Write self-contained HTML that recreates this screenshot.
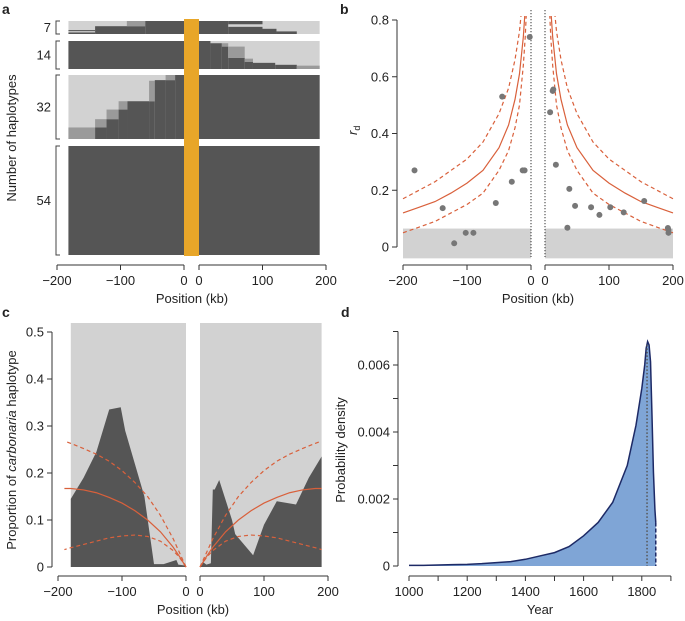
<!DOCTYPE html>
<html><head><meta charset="utf-8"><style>
body{margin:0;background:#fff;}
svg{display:block;font-family:"Liberation Sans",sans-serif;}
text{fill:#222;}
</style></head><body>
<svg id="fig" width="685" height="621" viewBox="0 0 685 621" xmlns="http://www.w3.org/2000/svg">
<g id="pa"></g>
<g id="pb"></g>
<g id="pc"></g>
<g id="pd"></g>
<text x="2" y="14" font-size="14" font-weight="bold">a</text>
<text x="340" y="14" font-size="14" font-weight="bold">b</text>
<text x="2" y="317" font-size="14" font-weight="bold">c</text>
<text x="341" y="317" font-size="14" font-weight="bold">d</text>
</svg>
<script>
const NS="http://www.w3.org/2000/svg";
function el(p,t,a){const e=document.createElementNS(NS,t);for(const k in a)e.setAttribute(k,a[k]);p.appendChild(e);return e;}
const LIGHT="#d2d2d2",DARK="#555555",MID="#9a9a9a",RED="#d9603b";

// ---- Panel a data ----
const groupSizes=[7,14,32,54];
const groupY=[[21,34],[41,69],[75,139],[146,255]];
// segments: [kbStart,kbEnd,fracTop,fracBottom,shade]
const block7=[[-182,-140,0.7,0.78,"d"],[-182,-140,0.88,1,"d"],[-140,-61,0.4,1,"d"],[-90,-61,0,0.4,"m"],[-61,0,0,1,"d"],
 [0,46,0,1,"d"],[46,100,0,0.25,"d"],[46,100,0.45,1,"d"],[100,122,0.6,1,"d"],[122,154,0.8,1,"d"]];
const block14=[[-182,0,0,1,"d"],[0,18,0,1,"d"],[18,36,0.08,1,"d"],[36,46,0.2,1,"d"],[36,46,0.08,0.2,"m"],[46,72,0.6,1,"d"],[46,72,0.2,0.6,"m"],
 [72,85,0.75,1,"d"],[72,85,0.63,0.75,"m"],[85,120,0.78,1,"d"],[120,154,0.85,1,"d"],[154,190,0.88,1,"m"]];
const block32=[[-182,-140,0.82,1,"m"],[-140,-122,0.82,1,"d"],[-140,-122,0.69,0.82,"m"],[-122,-103,0.69,1,"d"],[-122,-103,0.54,0.69,"m"],
 [-103,-89,0.54,1,"d"],[-103,-89,0.41,0.54,"m"],[-89,-55,0.41,1,"d"],[-55,-46,0.41,1,"d"],[-55,-46,0.09,0.41,"m"],[-46,-29,0.08,1,"d"],
 [-29,-14,0.08,1,"d"],[-29,-14,0,0.08,"m"],[-14,0,0,1,"d"],[0,190,0,1,"d"]];
const block54=[[-182,0,0,1,"d"],[0,190,0,1,"d"]];
const blocks=[block7,block14,block32,block54];
const aTicks=[-200,-100,0,0,100,200];
(function(){
 const g=document.getElementById('pa');
 const xl=k=>184+(k+200)*0.635-127, xr=k=>199+k*0.635;
 const xs=(k,side)=>side<0?xl(k):xr(k);
 blocks.forEach((b,i)=>{
  const [y0,y1]=groupY[i],h=y1-y0;
  const bg=el(g,'rect',{x:xl(-182),y:y0,width:xr(190)-xl(-182),height:h,fill:LIGHT});
  
  
  b.forEach(s=>{
   const side=s[0]<0?-1:1;
   const r=el(g,'rect',{x:xs(s[0],side),y:y0+s[2]*h,width:xs(s[1],side)-xs(s[0],side),height:(s[3]-s[2])*h,fill:s[4]=="d"?DARK:MID});
   
   
  });
  const br=el(g,'path',{d:`M60 ${y0}H56V${y1}H60`,stroke:"#444",fill:"none","stroke-width":1});
  
  
  const t=el(g,'text',{x:51,y:(y0+y1)/2+4.5,"font-size":13,"text-anchor":"end"});t.textContent=groupSizes[i];
  
  
 });
 const o=el(g,'rect',{x:184,y:19,width:15,height:237,fill:"#e8a629"});
 
 
 el(g,'path',{d:"M57 265H184M199 265H326",stroke:"#333",fill:"none"});
 aTicks.forEach((k,i)=>{const x=i<3?xl(k):xr(k);el(g,'line',{x1:x,x2:x,y1:265,y2:270,stroke:"#333"});
  const t=el(g,'text',{x:x,y:285,"font-size":13,"text-anchor":"middle"});t.textContent=k<0?"\u2212"+(-k):k;
  });
 const xt=el(g,'text',{x:192,y:303,"font-size":13,"text-anchor":"middle"});xt.textContent="Position (kb)";
 
 const yt=el(g,'text',{x:0,y:0,"font-size":13,"text-anchor":"middle",transform:"translate(16,138) rotate(-90)"});yt.textContent="Number of haplotypes";
 
})();

// ---- Panel b data ----
const bPosL=[-182,-138,-120,-102,-90,-55,-45,-30,-13,-10,-2];
const bValL=[0.27,0.137,0.013,0.05,0.05,0.155,0.53,0.23,0.27,0.27,0.74];
const bPosR=[8,12,13,17,35,38,47,72,85,102,123,155,192,193,193];
const bValR=[0.475,0.55,0.555,0.29,0.068,0.205,0.145,0.14,0.113,0.14,0.122,0.162,0.067,0.06,0.05];
const bCurveX=[200,175,150,125,100,75,50,35,25,18,12,9,7];
const bSolid=[0.12,0.14,0.16,0.19,0.225,0.27,0.35,0.43,0.52,0.61,0.74,0.84,0.9];
const bUpper=[0.17,0.2,0.23,0.27,0.31,0.37,0.47,0.56,0.66,0.76,0.9,0.95,0.98];
const bLower=[0.05,0.07,0.09,0.12,0.15,0.19,0.27,0.34,0.42,0.5,0.64,0.74,0.84];
const bTicks=[0,0.2,0.4,0.6,0.8];
(function(){
 const g=document.getElementById('pb');
 const yb=v=>247-v*283.75;
 const xl=k=>531+k*0.64, xr=k=>545+k*0.64;
 const clip=el(g,'clipPath',{id:'cb'});el(clip,'rect',{x:390,y:16,width:290,height:260});
 [[xl(-200),xl(0)],[xr(0),xr(200)]].forEach(([a,b])=>{const r=el(g,'rect',{x:a,y:yb(0.065),width:b-a,height:yb(-0.04)-yb(0.065),fill:LIGHT});
  });
 [531,545].forEach(x=>el(g,'line',{x1:x,x2:x,y1:10,y2:257,stroke:"#333","stroke-dasharray":"1.2,1.8","stroke-width":1}));
 const cg=el(g,'g',{"clip-path":"url(#cb)"});
 [[bSolid,""],[bUpper,"4,3"],[bLower,"4,3"]].forEach(([arr,da],ci)=>{
  [-1,1].forEach(s=>{
   const pts=bCurveX.map((x,i)=>(s<0?xl(-x):xr(x))+","+yb(arr[i])).join(" ");
   const p=el(cg,'polyline',{points:pts,fill:"none",stroke:RED,"stroke-width":1.2,"stroke-dasharray":da});
   
   
  });
 });
 bPosL.forEach((k,i)=>{const c=el(g,'circle',{cx:xl(k),cy:yb(bValL[i]),r:3,fill:"#777"});
  });
 bPosR.forEach((k,i)=>{const c=el(g,'circle',{cx:xr(k),cy:yb(bValR[i]),r:3,fill:"#777"});
  });
 el(g,'line',{x1:397,x2:397,y1:yb(0.8),y2:yb(0),stroke:"#333"});
 bTicks.forEach(v=>{el(g,'line',{x1:392,x2:397,y1:yb(v),y2:yb(v),stroke:"#333"});
  const t=el(g,'text',{x:389,y:yb(v)+4.5,"font-size":13,"text-anchor":"end"});t.textContent=v==0?"0":v.toFixed(1);
  });
 el(g,'path',{d:`M${xl(-200)} 265H${xl(0)}M${xr(0)} 265H${xr(200)}`,stroke:"#333",fill:"none"});
 aTicks.forEach((k,i)=>{const x=i<3?xl(k):xr(k);el(g,'line',{x1:x,x2:x,y1:265,y2:270,stroke:"#333"});
  const t=el(g,'text',{x:x,y:285,"font-size":13,"text-anchor":"middle"});t.textContent=k<0?"\u2212"+(-k):k;
  });
 const xt=el(g,'text',{x:538,y:303,"font-size":13,"text-anchor":"middle"});xt.textContent="Position (kb)";
 
 const yt=el(g,'text',{x:0,y:0,"font-size":13,"font-style":"italic",transform:"translate(357,135) rotate(-90)"});
 yt.innerHTML='r<tspan font-size="9" dy="3" font-style="normal">d</tspan>';
 
})();

// ---- Panel c data ----
const cPosL=[-180,-160,-140,-120,-102,-95,-80,-65,-50,-35,-15,-12,0];
const cValL=[0.145,0.19,0.245,0.335,0.34,0.29,0.22,0.15,0.006,0.006,0.015,0.005,0.003];
const cPosR=[0,5,10,17,20,23,30,50,55,83,100,120,150,170,190];
const cValR=[0,0.01,0.005,0.008,0.165,0.165,0.185,0.1,0.07,0.025,0.09,0.14,0.133,0.19,0.235];
const cCurveX=[0,10,20,40,60,80,100,120,140,160,180,190];
const cSolid=[0,0.022,0.042,0.075,0.1,0.12,0.136,0.148,0.158,0.164,0.167,0.167];
const cUpper=[0,0.03,0.06,0.11,0.15,0.18,0.205,0.225,0.24,0.252,0.263,0.268];
const cLower=[0,0.02,0.035,0.055,0.065,0.068,0.066,0.062,0.055,0.048,0.041,0.037];
const cTicks=[0,0.1,0.2,0.3,0.4,0.5];
(function(){
 const g=document.getElementById('pc');
 const yc=v=>567-v*470;
 const xl=k=>186+k*0.64, xr=k=>200+k*0.64;
 const b1=el(g,'rect',{x:xl(-180),y:323,width:xl(0)-xl(-180),height:244,fill:LIGHT});
 
 const b2=el(g,'rect',{x:xr(0),y:323,width:xr(190)-xr(0),height:244,fill:LIGHT});
 
 const aL=el(g,'polygon',{points:cPosL.map((k,i)=>xl(k)+","+yc(cValL[i])).join(" ")+` ${xl(0)},${yc(0)} ${xl(-180)},${yc(0)}`,fill:DARK});
 
 const aR=el(g,'polygon',{points:cPosR.map((k,i)=>xr(k)+","+yc(cValR[i])).join(" ")+` ${xr(190)},${yc(0)} ${xr(0)},${yc(0)}`,fill:DARK});
 
 [[cSolid,""],[cUpper,"4,3"],[cLower,"4,3"]].forEach(([arr,da],ci)=>{
  [-1,1].forEach(s=>{
   const pts=cCurveX.map((x,i)=>(s<0?xl(-x):xr(x))+","+yc(arr[i])).join(" ");
   const p=el(g,'polyline',{points:pts,fill:"none",stroke:RED,"stroke-width":1.2,"stroke-dasharray":da});
   
   
  });
 });
 el(g,'line',{x1:52,x2:52,y1:yc(0.5),y2:yc(0),stroke:"#333"});
 cTicks.forEach(v=>{el(g,'line',{x1:47,x2:52,y1:yc(v),y2:yc(v),stroke:"#333"});
  const t=el(g,'text',{x:44,y:yc(v)+4.5,"font-size":13,"text-anchor":"end"});t.textContent=v==0?"0":v.toFixed(1);
  });
 el(g,'path',{d:`M${xl(-200)} 576H${xl(0)}M${xr(0)} 576H${xr(200)}`,stroke:"#333",fill:"none"});
 aTicks.forEach((k,i)=>{const x=i<3?xl(k):xr(k);el(g,'line',{x1:x,x2:x,y1:576,y2:581,stroke:"#333"});
  const t=el(g,'text',{x:x,y:596,"font-size":13,"text-anchor":"middle"});t.textContent=k<0?"\u2212"+(-k):k;
  });
 const xt=el(g,'text',{x:193,y:614,"font-size":13,"text-anchor":"middle"});xt.textContent="Position (kb)";
 
 const yt=el(g,'text',{x:0,y:0,"font-size":13,"text-anchor":"middle",transform:"translate(16,450) rotate(-90)"});
 yt.innerHTML='Proportion of <tspan font-style="italic">carbonaria</tspan> haplotype';
 
})();

// ---- Panel d data ----
const dYears=[1000,1050,1100,1150,1200,1250,1300,1350,1400,1450,1500,1550,1600,1650,1700,1750,1780,1800,1810,1815,1820,1825,1830,1835,1840,1845,1848];
const dDensity=[0.00002,0.00002,0.00003,0.00004,0.00005,0.00007,0.0001,0.00013,0.0002,0.0003,0.0004,0.00058,0.0009,0.0013,0.0019,0.003,0.0042,0.0053,0.006,0.0065,0.0067,0.0066,0.0061,0.0045,0.0028,0.0017,0.0013];
const dMode=1818;
const dXTicks=[1000,1100,1200,1300,1400,1500,1600,1700,1800,1900];
const dYTicks=[0,0.001,0.002,0.003,0.004,0.005,0.006,0.007];
(function(){
 const g=document.getElementById('pd');
 const xd=y=>409+(y-1000)*0.291, yd=v=>566-v*33500;
 const last=dYears.length-1;
 const pts=dYears.map((y,i)=>xd(y)+","+yd(dDensity[i])).join(" ");
 const a=el(g,'polygon',{points:pts+` ${xd(dYears[last])},${yd(0)} ${xd(dYears[0])},${yd(0)}`,fill:"#7fa5d6"});
 
 const l=el(g,'polyline',{points:pts,fill:"none",stroke:"#1d2a66","stroke-width":1.5});
 
 const dl=el(g,'line',{x1:xd(dYears[last]),x2:xd(dYears[last]),y1:yd(dDensity[last]),y2:yd(0),stroke:"#1d2a66","stroke-width":1.5,"stroke-dasharray":"4,2"});
 
 const ml=el(g,'line',{x1:xd(dMode),x2:xd(dMode),y1:yd(0.0066),y2:yd(0),stroke:"#555","stroke-width":1.5,"stroke-dasharray":"1.5,2"});
 
 el(g,'line',{x1:398,x2:398,y1:yd(0.007),y2:yd(0),stroke:"#333"});
 dYTicks.forEach((v,i)=>{el(g,'line',{x1:393,x2:398,y1:yd(v),y2:yd(v),stroke:"#333"});
  if(i%2==0){const t=el(g,'text',{x:390,y:yd(v)+4.5,"font-size":13,"text-anchor":"end"});t.textContent=v==0?"0":v.toFixed(3);
  }});
 el(g,'line',{x1:xd(1000),x2:xd(1900),y1:576,y2:576,stroke:"#333"});
 dXTicks.forEach((v,i)=>{el(g,'line',{x1:xd(v),x2:xd(v),y1:576,y2:581,stroke:"#333"});
  if(i%2==0&&v<1900){const t=el(g,'text',{x:xd(v),y:596,"font-size":13,"text-anchor":"middle"});t.textContent=v;
  }});
 const xt=el(g,'text',{x:540,y:614,"font-size":13,"text-anchor":"middle"});xt.textContent="Year";
 
 const yt=el(g,'text',{x:0,y:0,"font-size":13,"text-anchor":"middle",transform:"translate(345,450) rotate(-90)"});
 yt.textContent="Probability density";
 
})();
</script>
</body></html>
